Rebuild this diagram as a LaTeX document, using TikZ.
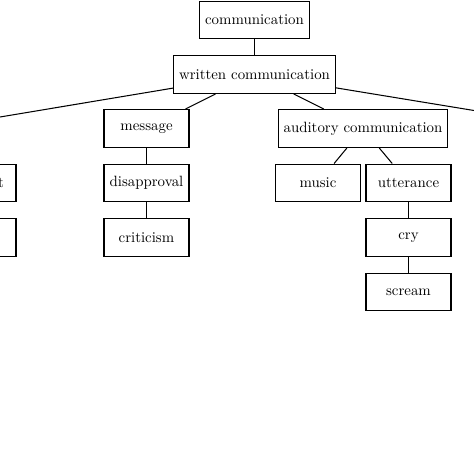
\documentclass[tikz,border=0pt]{standalone}
\usepackage{tikz}
\usetikzlibrary{positioning}
\tikzset{
  box/.style={draw=black, line width=0.7pt, minimum width=57.1pt, minimum height=25.5pt, inner sep=3.6pt},
  link/.style={draw=black, line width=0.7pt},
}
\begin{document}
\begin{tikzpicture}[x=0.672pt,y=-0.672pt]
  \useasboundingbox (0,0) rectangle (474,474);
  \clip (0,0) rectangle (474,474);

  \node[box] (comm) at (254.5,20) {communication};
  \node[box] (written) at (254.5,74.5) {written communication};
  \node[box] (message) at (146.5,128.5) {message};
  \node[box] (auditory) at (363,128.5) {auditory communication};
  \node[box] (disapproval) at (146.5,183) {disapproval};
  \node[box] (criticism) at (146.5,237.5) {criticism};
  \node[box] (music) at (318,183) {music};
  \node[box] (utterance) at (408.5,183) {utterance};
  \node[box] (cry) at (408.5,237.5) {cry};
  \node[box] (scream) at (408.5,292) {scream};
  \node[box, text width=41pt, align=right] (leftA) at (-26.5,183) {t};
  \node[box] (leftB) at (-26.5,237.5) {};
  \coordinate (leftEnd) at (0,117);
  \coordinate (rightEnd) at (474,110.5);

  \draw[link] (comm) -- (written);
  \draw[link] (written) -- (leftEnd);
  \draw[link] (written) -- (message);
  \draw[link] (written) -- (auditory);
  \draw[link] (written) -- (rightEnd);
  \draw[link] (message) -- (disapproval);
  \draw[link] (disapproval) -- (criticism);
  \draw[link] (auditory) -- (music);
  \draw[link] (auditory) -- (utterance);
  \draw[link] (utterance) -- (cry);
  \draw[link] (cry) -- (scream);
\end{tikzpicture}
\end{document}
